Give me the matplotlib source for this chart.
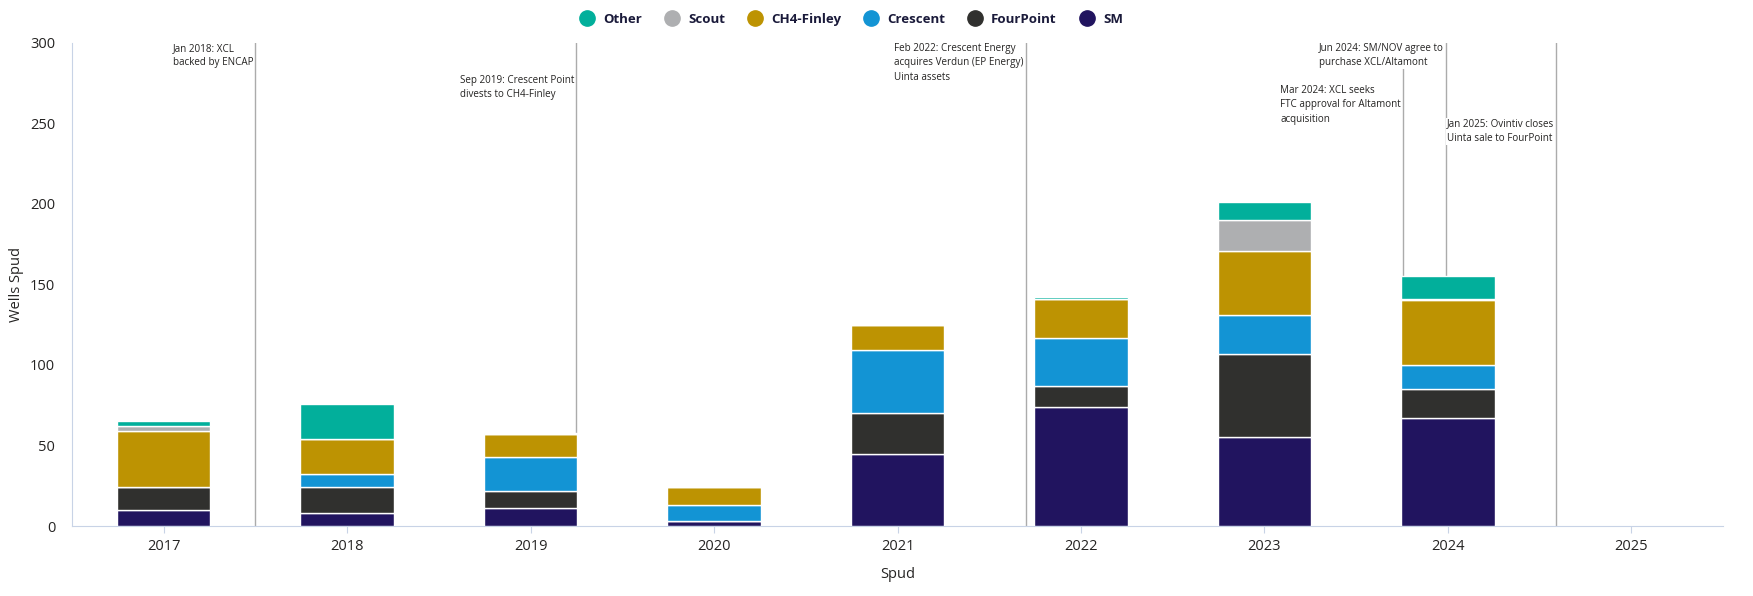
import numpy as np
import matplotlib
matplotlib.use("Agg")
from matplotlib import pyplot as plt
from matplotlib.lines import Line2D

plt.rcParams['font.family'] = ['Open Sans', 'DejaVu Sans']

# data
years = ['2017', '2018', '2019', '2020', '2021', '2022', '2023', '2024', '2025']
sm = [10, 8, 11, 3, 45, 74, 55, 67, 0]
fourpoint = [14, 16, 11, 0, 25, 13, 52, 18, 0]
crescent = [0, 8, 21, 10, 39, 30, 24, 15, 0]
ch4_finley = [35, 22, 14, 11, 16, 24, 40, 40, 0]
scout = [3, 0, 0, 0, 0, 0, 19, 1, 0]
other = [3, 22, 1, 0, 0, 1, 11, 14, 0]

# events: position on the category axis, label, top of text (in wells)
event_pos = [0.50, 2.25, 4.70, 6.756, 6.99, 7.59]
event_text = ["Jan 2018: XCL\nbacked by ENCAP",
              "Sep 2019: Crescent Point\ndivests to CH4-Finley",
              "Feb 2022: Crescent Energy\nacquires Verdun (EP Energy)\nUinta assets",
              "Mar 2024: XCL seeks\nFTC approval for Altamont\nacquisition",
              "Jun 2024: SM/NOV agree to\npurchase XCL/Altamont",
              "Jan 2025: Ovintiv closes\nUinta sale to FourPoint"]
event_y = [300, 280, 300, 274, 300, 253]

series = [("SM", sm, "#21145F"),
          ("FourPoint", fourpoint, "#30302E"),
          ("Crescent", crescent, "#1394D4"),
          ("CH4-Finley", ch4_finley, "#BD9302"),
          ("Scout", scout, "#AEAFB1"),
          ("Other", other, "#02AF9B")]

fig = plt.figure(figsize=(17.53, 5.96), dpi=100)
ax = fig.add_axes([0.041, 0.1174, 0.942, 0.811])

x = np.arange(len(years))
bottom = np.zeros(len(years))
for name, vals, col in series:
    vals = np.array(vals, dtype=float)
    ax.bar(x, vals, 0.51, bottom=bottom, color=col, edgecolor='white',
           linewidth=1.0, zorder=3)
    bottom += vals

for pos, txt, ty in zip(event_pos, event_text, event_y):
    ax.plot([pos, pos], [0, 300], color='#ababab', lw=1.0, zorder=2)
    ax.text(pos - 0.012, ty, txt, ha='right', va='top', ma='left', fontsize=7.1,
            color='#252423', linespacing=1.45, zorder=4,
            bbox=dict(facecolor='white', edgecolor='none', pad=0.5))

ax.set_xlim(-0.5, 8.5)
ax.set_ylim(0, 300)
ax.set_xticks(x)
ax.set_xticklabels(years)
ax.set_yticks(range(0, 301, 50))
ax.tick_params(axis='x', length=5, color='#c8d3e6', labelsize=10.5,
               labelcolor='#252423', pad=4)
ax.tick_params(axis='y', length=0, labelsize=10.5, labelcolor='#252423', pad=12)
for s in ['top', 'right']:
    ax.spines[s].set_visible(False)
for s in ['left', 'bottom']:
    ax.spines[s].set_color('#c8d3e6')
ax.set_xlabel("Spud", fontsize=10.5, color='#252423', labelpad=10)
ax.set_ylabel("Wells Spud", fontsize=10.5, color='#252423', labelpad=4)

handles = [Line2D([], [], marker='o', ls='', markersize=11,
                  markerfacecolor=col, markeredgecolor=col, label=name)
           for name, vals, col in series[::-1]]
leg = fig.legend(handles=handles, loc='center', bbox_to_anchor=(0.484, 0.968),
                 ncol=6, frameon=False, handletextpad=0.2, columnspacing=1.3,
                 prop={'size': 9.5, 'weight': 'bold'})
for t in leg.get_texts():
    t.set_color('#1a1a3a')

fig.savefig("out.png", dpi=100)
